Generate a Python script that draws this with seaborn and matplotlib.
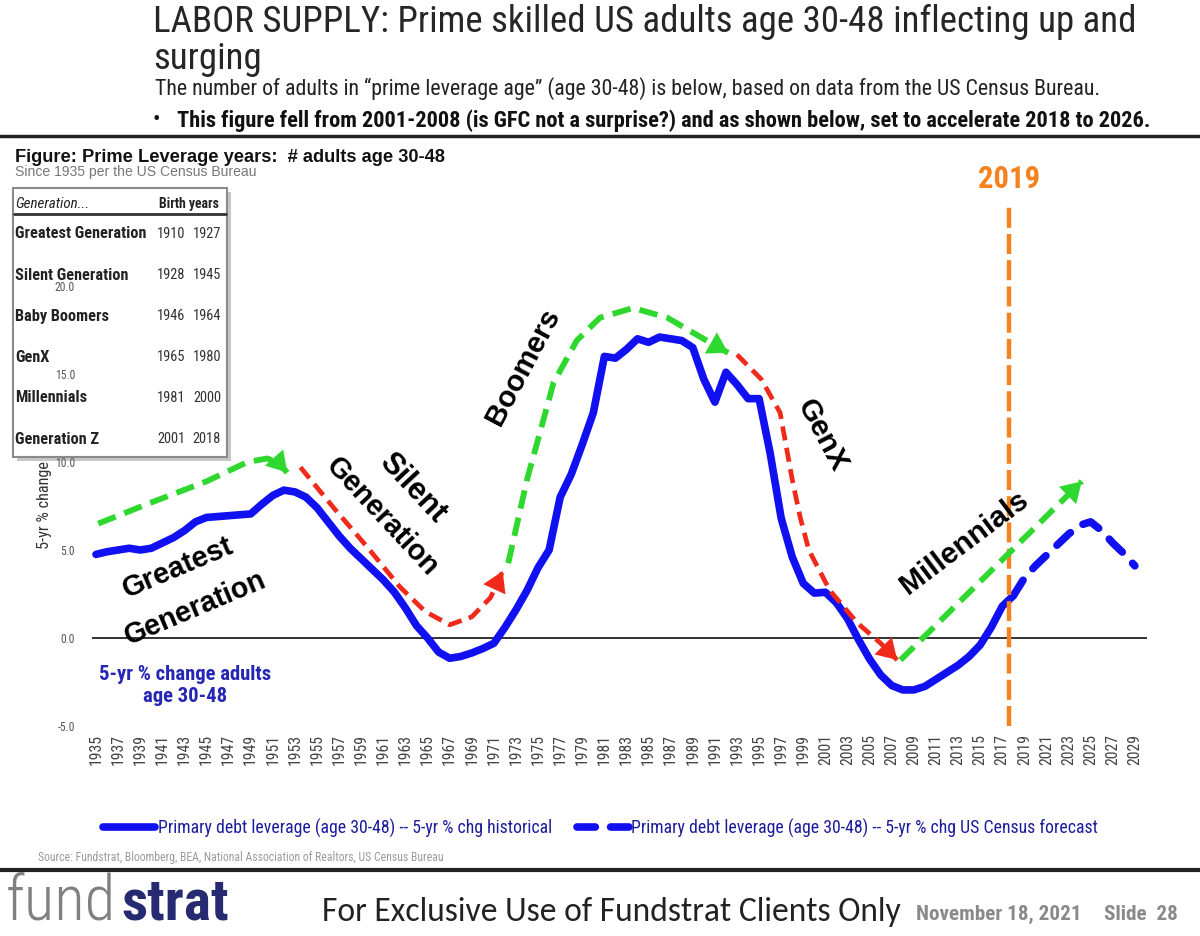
import matplotlib
matplotlib.use("Agg")
import matplotlib.pyplot as plt
import matplotlib.patches as mpatches
from matplotlib.lines import Line2D
from matplotlib import font_manager
import pandas as pd
import seaborn as sns

# --- data ---
hist_years = list(range(1935, 2019))
hist_values = [4.75, 4.9, 5.0, 5.1, 5.0, 5.1, 5.4, 5.7, 6.1, 6.6,
               6.85, 6.9, 6.95, 7.0, 7.05, 7.6, 8.1, 8.4, 8.3, 8.0,
               7.4, 6.6, 5.8, 5.1, 4.5, 3.9, 3.3, 2.6, 1.7, 0.7,
               0.0, -0.8, -1.15, -1.05, -0.85, -0.6, -0.3, 0.6, 1.6, 2.7,
               4.0, 5.0, 8.0, 9.3, 11.0, 12.8, 16.0, 15.9, 16.4, 17.0,
               16.8, 17.1, 17.0, 16.9, 16.5, 14.7, 13.4, 15.1, 14.4, 13.6,
               13.6, 10.5, 6.8, 4.6, 3.1, 2.55, 2.6, 2.0, 1.1, -0.1,
               -1.2, -2.1, -2.7, -2.95, -2.95, -2.75, -2.35, -1.95, -1.55, -1.05,
               -0.4, 0.6, 1.8, 2.4]
fc_years = list(range(2018, 2030))
fc_values = [2.4, 3.4, 4.1, 4.7, 5.3, 5.9, 6.4, 6.6, 6.1, 5.4, 4.8, 4.1]

tick_years = list(range(1935, 2030, 2))
y_ticks = [-5, 0, 5, 10, 15, 20]
marker_year = 2017.6

gen_names = ["Greatest Generation", "Silent Generation", "Baby Boomers",
             "GenX", "Millennials", "Generation Z"]
birth_start = [1910, 1928, 1946, 1965, 1981, 2001]
birth_end = [1927, 1945, 1964, 1980, 2000, 2018]

# hand-drawn arrows on the slide (year, value)
green_greatest = [(1935.2, 6.5), (1940, 7.7), (1945, 8.9), (1948.7, 10.0),
                  (1950.5, 10.2), (1951.6, 9.9), (1952.3, 9.4)]
red_silent = [(1953.5, 9.7), (1956.5, 7.4), (1959.5, 5.2), (1962.5, 2.9),
              (1964.8, 1.5), (1967, 0.75), (1969, 1.2), (1970.7, 2.3), (1971.8, 3.8)]
green_boomers = [(1972.3, 4.25), (1974, 9.0), (1976.4, 14.5), (1978.5, 16.9),
                 (1980.6, 18.2), (1983.6, 18.75), (1986.7, 18.2), (1989.7, 17.1),
                 (1992.2, 16.2)]
red_genx = [(1993, 16.1), (1995.2, 14.7), (1996.9, 12.8), (1998.0, 9.0),
            (1998.7, 6.9), (1999.5, 5.0), (2001.4, 2.7), (2003.9, 0.85),
            (2006, -0.3), (2007.5, -1.25)]
green_millennials = [(2007.8, -1.25), (2024.2, 8.9)]

BLUE = "#1010f0"
GREEN = "#2ed82e"
RED = "#f02a1a"
ORANGE = "#f5821f"
NAVY = "#1c1c9c"

sns.set_theme(style="white")


def pick(cands, need_bold=True):
    ttf = font_manager.fontManager.ttflist
    for c in cands:
        ws = [f.weight for f in ttf if f.name == c]
        ws = [w if isinstance(w, int) else 700 if "bold" in str(w) else 400 for w in ws]
        if ws and (not need_bold or max(ws) >= 700):
            return c
    return "DejaVu Sans"


NARROW = pick(["Arial Narrow", "Liberation Sans Narrow", "Roboto Condensed",
               "PT Sans Narrow", "Cabin Condensed", "Asap Condensed"])
ARIAL = pick(["Arial", "Liberation Sans", "Arimo"])
FOOT = pick(["Carlito", "Calibri", NARROW], need_bold=False)
plt.rcParams["font.family"] = [ARIAL, "DejaVu Sans"]

W, H = 1200, 936
fig = plt.figure(figsize=(12, 9.36), dpi=100)
fig.patch.set_facecolor("white")
renderer = fig.canvas.get_renderer()


def fit(s, width, **kw):
    # font size that makes s about `width` pixels wide
    t = fig.text(0, 0, s, fontsize=10, **kw)
    w = t.get_window_extent(renderer).width
    t.remove()
    return 10 * width / w


def T(x, y, s, **kw):
    kw.setdefault("va", "center")
    return fig.text(x / W, 1 - y / H, s, **kw)


# header
title1 = "LABOR SUPPLY: Prime skilled US adults age 30-48 inflecting up and"
ts = fit(title1, 978, family=NARROW)
T(153, 22, title1, fontsize=ts, color="#262626", family=NARROW)
T(153, 59, "surging", fontsize=ts, color="#262626", family=NARROW)
sub = ("The number of adults in \u201cprime leverage age\u201d (age 30-48) is below, "
       "based on data from the US Census Bureau.")
T(155, 89, sub, fontsize=fit(sub, 943, family=NARROW), color="#222222", family=NARROW)
bullet = ("This figure fell from 2001-2008 (is GFC not a surprise?) and as shown below, "
          "set to accelerate 2018 to 2026.")
bs = fit(bullet, 974, family=NARROW, fontweight="bold")
T(153, 121, "\u2022", fontsize=bs, color="#111111", family=NARROW)
T(177, 121, bullet, fontsize=bs, color="#111111", fontweight="bold", family=NARROW)
fig.add_artist(Line2D([0, 1], [1 - 136 / H] * 2, color="#222222", lw=2.5))

fig_t = "Figure: Prime Leverage years:  # adults age 30-48"
T(15, 157, fig_t, fontsize=fit(fig_t, 432, fontweight="bold"), fontweight="bold",
  color="#111111")
since = "Since 1935 per the US Census Bureau"
T(15, 172, since, fontsize=fit(since, 242), color="#777777")

# main chart
ax = fig.add_axes([91.6 / W, 1 - 726 / H, (1147 - 91.6) / W, 528 / H])
ax.set_facecolor("none")

lab1 = "Primary debt leverage (age 30-48) -- 5-yr % chg historical"
lab2 = "Primary debt leverage (age 30-48) -- 5-yr % chg US Census forecast"
df_hist = pd.DataFrame({"year": hist_years, "chg": hist_values})
df_fc = pd.DataFrame({"year": fc_years, "chg": fc_values})
sns.lineplot(data=df_hist, x="year", y="chg", ax=ax, color=BLUE, lw=5.5,
             solid_capstyle="round", solid_joinstyle="round", label=lab1)
sns.lineplot(data=df_fc, x="year", y="chg", ax=ax, color=BLUE, lw=5.5,
             linestyle=(0, (2.4, 2.0)), dash_capstyle="round", label=lab2)

ax.axhline(0, color="#222222", lw=1.3, zorder=1)


def arrow_path(pts, color, lw, dash):
    xs = [p[0] for p in pts]
    ys = [p[1] for p in pts]
    ax.plot(xs, ys, color=color, lw=lw, linestyle=(0, dash), zorder=3)
    ax.annotate("", xy=pts[-1], xytext=pts[-2],
                arrowprops=dict(arrowstyle="-|>,head_length=0.9,head_width=0.55",
                                color=color, lw=0, shrinkA=0, shrinkB=0,
                                mutation_scale=16), zorder=4)


arrow_path(green_greatest, GREEN, 4.2, (3.2, 1.6))
arrow_path(red_silent, RED, 3.4, (3.0, 1.6))
arrow_path(green_boomers, GREEN, 4.2, (3.2, 1.6))
arrow_path(red_genx, RED, 3.4, (3.0, 1.6))
arrow_path(green_millennials, GREEN, 4.2, (3.2, 1.6))

ax.vlines(marker_year, -5, 24.6, color=ORANGE, lw=3.2, linestyle=(0, (4.5, 1.4)), zorder=2)
ax.text(marker_year, 26.1, "2019", color=ORANGE, fontweight="bold", family=NARROW,
        fontsize=fit("2019", 62, family=NARROW, fontweight="bold"), ha="center", va="center")

# generation labels (text, width px, x, y, angle)
gen_labels = [("Greatest", 118, 1942.4, 4.0, 23), ("Generation", 151, 1944.0, 1.7, 23),
              ("Silent", 84, 1963.6, 8.5, -47), ("Generation", 151, 1960.9, 6.9, -47),
              ("Boomers", 128, 1973.6, 15.4, 62), ("GenX", 78, 2000.7, 11.5, -62),
              ("Millennials", 152, 2013.6, 5.4, 37)]
for s, wpx, gx, gy, rot in gen_labels:
    ax.text(gx, gy, s, rotation=rot, rotation_mode="anchor", fontweight="bold",
            fontsize=fit(s, wpx, fontweight="bold"), color="black", ha="center", va="center")
note = "5-yr % change adults"
ax.text(1943.1, -2.7, note + "\nage 30-48", color="#2626b5",
        fontsize=fit(note, 172, family=NARROW, fontweight="bold"),
        fontweight="bold", ha="center", va="center", linespacing=1.15, family=NARROW)

ax.set_xlim(1934.6, 2030.1)
ax.set_ylim(-5, 25)
ax.set_xticks(tick_years)
ax.set_xticklabels([str(y) for y in tick_years], rotation=90, family=NARROW,
                   fontsize=fit("1935", 31, family=NARROW), color="#444444")
ax.set_yticks(y_ticks)
ax.set_yticklabels([f"{v:.1f}" for v in y_ticks], family=NARROW,
                   fontsize=fit("10.0", 20, family=NARROW), color="#555555")
ax.tick_params(axis="both", length=0)
ax.tick_params(axis="y", pad=12)
ax.tick_params(axis="x", pad=6)
ax.set_xlabel("")
ax.set_ylabel("")
for s in ax.spines.values():
    s.set_visible(False)
ylab = "5-yr % change"
T(45, 505, ylab, rotation=90, ha="center", fontsize=fit(ylab, 88, family=NARROW),
  color="#333333", family=NARROW)

# legend at the bottom
h, l = ax.get_legend_handles_labels()
ax.get_legend().remove()
ls = fit(lab1, 392, family=NARROW)
leg = fig.legend(h, l, loc="center left", bbox_to_anchor=(103 / W, 1 - 828 / H), ncol=2,
                 frameon=False, handlelength=52 / (ls * 100 / 72), handletextpad=0.15,
                 columnspacing=25 / (ls * 100 / 72), borderpad=0, borderaxespad=0,
                 prop={"family": NARROW, "size": ls})
for t in leg.get_texts():
    t.set_color(NAVY)

src = "Source: Fundstrat, Bloomberg, BEA, National Association of Realtors, US Census Bureau"
T(38, 858, src, fontsize=fit(src, 406, family=NARROW), color="#9a9a9a", family=NARROW)

# generation table (drawn under the axes so the tick labels sit on top)
x0, y0, x1, y1 = 13, 188, 227, 457
shadow = mpatches.Rectangle(((x0 + 4) / W, 1 - (y1 + 4) / H), (x1 - x0) / W, (y1 - y0) / H,
                            transform=fig.transFigure, facecolor="#9a9a9a", alpha=0.55,
                            edgecolor="none", zorder=-3)
box = mpatches.Rectangle((x0 / W, 1 - y1 / H), (x1 - x0) / W, (y1 - y0) / H,
                         transform=fig.transFigure, facecolor="white",
                         edgecolor="#8a8a8a", lw=1.5, zorder=-2)
fig.add_artist(shadow)
fig.add_artist(box)
T(15, 204, "Generation...", fontsize=fit("Generation...", 74, family=NARROW, style="italic"),
  style="italic", color="#222222", family=NARROW, zorder=-1)
T(219, 204, "Birth years", fontsize=fit("Birth years", 60, family=NARROW, fontweight="bold"),
  fontweight="bold", ha="right", color="#222222", family=NARROW, zorder=-1)
fig.add_artist(Line2D([14 / W, 226 / W], [1 - 214 / H] * 2, color="#333333", lw=2, zorder=-1))
name_fs = fit("Greatest Generation", 130, family=NARROW, fontweight="bold")
year_fs = fit("1910", 28, family=NARROW)
row_y = [234, 275, 316, 357, 398, 439]
for name, a, b, ry in zip(gen_names, birth_start, birth_end, row_y):
    T(15, ry, name, fontsize=name_fs, fontweight="bold", color="#222222", family=NARROW,
      zorder=-1)
    T(171, ry, str(a), fontsize=year_fs, ha="center", color="#333333", family=NARROW, zorder=-1)
    T(207, ry, str(b), fontsize=year_fs, ha="center", color="#333333", family=NARROW, zorder=-1)

# footer
fig.add_artist(Line2D([0, 1], [1 - 870 / H] * 2, color="#222222", lw=3))
T(6, 920, "fund", fontsize=fit("fund", 110, family=NARROW, fontweight="light"),
  fontweight="light", color="#808080", family=NARROW, va="baseline")
T(121, 920, "strat", fontsize=fit("strat", 108, family=NARROW, fontweight="bold"),
  fontweight="bold", color="#262a70", family=NARROW, va="baseline")
excl = "For Exclusive Use of Fundstrat Clients Only"
T(322, 912, excl, fontsize=fit(excl, 582, family=FOOT), color="#222222", family=FOOT)
nov = "November 18, 2021"
nfs = fit(nov, 165, family=NARROW, fontweight="bold")
T(916, 914, nov, fontsize=nfs, fontweight="bold", color="#8a8a8a", family=NARROW)
T(1104, 914, "Slide  28", fontsize=nfs, fontweight="bold", color="#8a8a8a", family=NARROW)

fig.savefig("out.png", dpi=100)
